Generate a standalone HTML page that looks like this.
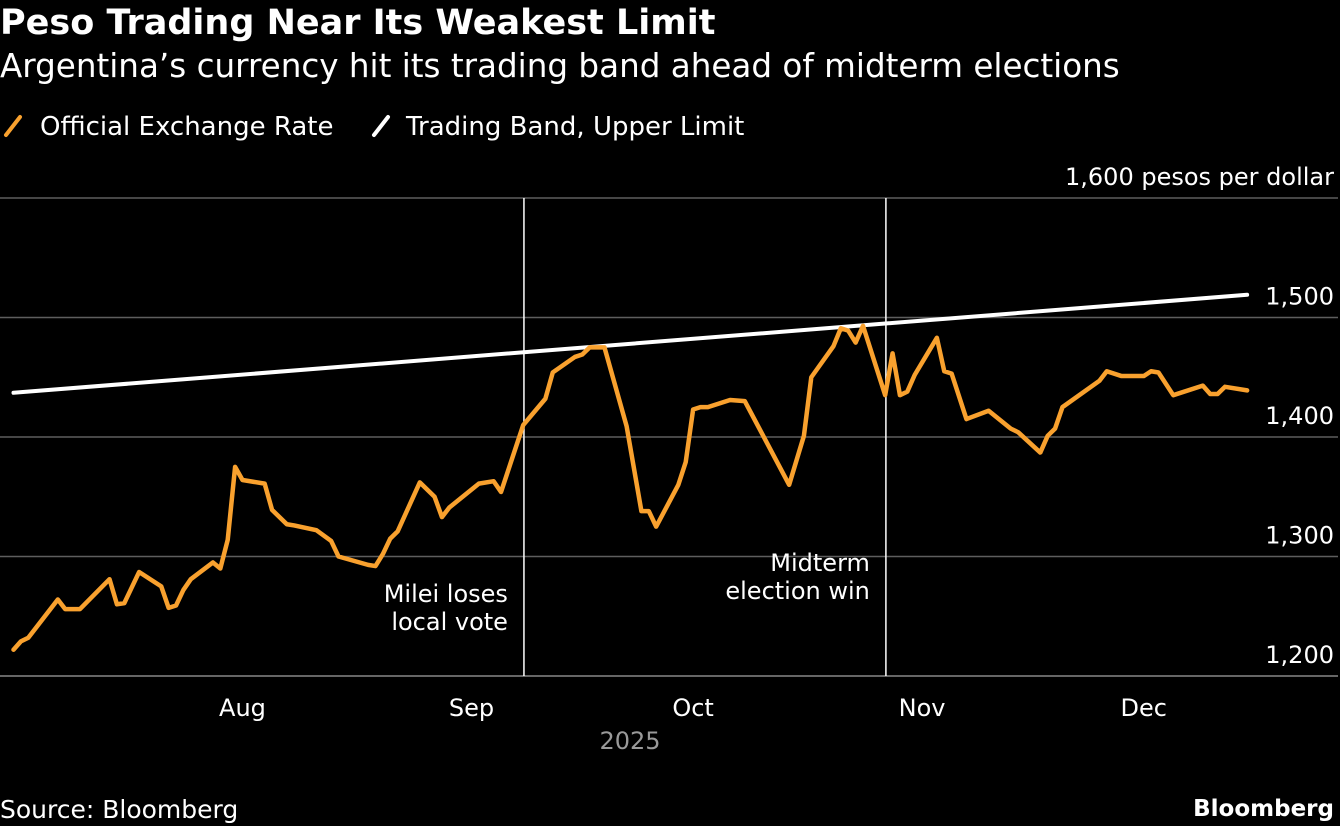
<!DOCTYPE html>
<html><head><meta charset="utf-8">
<style>
html,body{margin:0;padding:0;background:#000;}
svg{display:block;font-family:"DejaVu Sans","Liberation Sans",sans-serif;}
</style></head>
<body>
<svg id="chart" width="1340" height="826" viewBox="0 0 1340 826" xmlns="http://www.w3.org/2000/svg">
<rect width="1340" height="826" fill="#000"/>
<text x="0" y="34" fill="#fff" font-size="35" font-weight="bold">Peso Trading Near Its Weakest Limit</text>
<text x="0" y="77" fill="#fff" font-size="32.6">Argentina’s currency hit its trading band ahead of midterm elections</text>
<g>
  <g>
    <line x1="6" y1="135" x2="20" y2="117" stroke="#f9a12e" stroke-width="4" stroke-linecap="round"/>
    <text x="40" y="135" fill="#fff" font-size="26">Official Exchange Rate</text>
  </g>
  <g>
    <line x1="374" y1="135" x2="388" y2="117" stroke="#fff" stroke-width="4" stroke-linecap="round"/>
    <text x="406" y="135" fill="#fff" font-size="26">Trading Band, Upper Limit</text>
  </g>
</g>
<g id="grid"></g>
<g id="yticks"></g>
<g id="xticks"></g>
<g id="events"></g>
<g id="series"></g>
<text x="630" y="749" fill="#999" font-size="24" text-anchor="middle">2025</text>
<text x="0" y="818" fill="#fff" font-size="25">Source: Bloomberg</text>
<text x="1334" y="816" fill="#fff" font-size="23" font-weight="bold" text-anchor="end">Bloomberg</text>
</svg>
<script>
// days since Jul 1, 2025
const rateDays = [0,1,2,6,7,9,13,14,15,17,20,21,22,23,24,27,28,29,30,31,34,35,37,38,41,43,44,48,49,50,51,52,55,57,58,59,63,65,66,69,72,73,76,77,78,80,83,85,86,87,90,91,92,93,94,97,99,105,107,108,111,112,113,114,115,118,119,120,121,122,125,126,127,129,132,135,136,139,140,141,142,147,148,150,153,154,155,157,161,162,163,164,167];
const rateValues = [1222,1229,1232,1264,1256,1256,1281,1260,1261,1287,1275,1257,1259,1272,1281,1295,1290,1314,1375,1364,1361,1339,1327,1326,1322,1313,1300,1293,1292,1302,1315,1321,1362,1350,1333,1341,1361,1363,1354,1410,1432,1454,1467,1469,1475,1475,1409,1338,1338,1325,1360,1379,1423,1425,1425,1431,1430,1360,1401,1450,1476,1491,1489,1479,1493,1435,1470,1435,1438,1452,1483,1455,1453,1415,1422,1407,1404,1387,1401,1407,1425,1447,1455,1451,1451,1455,1454,1435,1443,1436,1436,1442,1439];
const bandDays = [0,167];
const bandValues = [1437,1519];
const yTicks = [1200,1300,1400,1500];
const yTopLabel = "1,600 pesos per dollar";
const monthLabels = ["Aug","Sep","Oct","Nov","Dec"];
const monthDays = [31,62,92,123,153];
const eventDays = [69.1,118.1];
const eventLines1 = ["Milei loses","Midterm"];
const eventLines2 = ["local vote","election win"];

const NS = "http://www.w3.org/2000/svg";
const xs = d => 13.5 + d * 7.387;
const ys = v => 676 - (v - 1200) * 1.195;
function mk(tag, attrs, parent){const e=document.createElementNS(NS,tag);for(const k in attrs)e.setAttribute(k,attrs[k]);parent.appendChild(e);return e;}
const gridG=document.getElementById('grid'), ytG=document.getElementById('yticks'), xtG=document.getElementById('xticks'), evG=document.getElementById('events'), seG=document.getElementById('series');

[...yTicks,1600].forEach(v=>{
  const l=mk('line',{x1:0,x2:1338,y1:ys(v),y2:ys(v),stroke:v===1200?'#888':'#5e5e5e','stroke-width':1.5},gridG);
  
  
});
yTicks.forEach(v=>{
  const t=mk('text',{x:1334,y:ys(v)-13,fill:'#fff','font-size':24,'text-anchor':'end'},ytG);
  t.textContent=v.toLocaleString('en-US');
  
  
});
const unitLabel=mk('text',{x:1334,y:ys(1600)-13,fill:'#fff','font-size':24,'text-anchor':'end'},ytG);
unitLabel.textContent=yTopLabel;



monthLabels.forEach((m,i)=>{
  const t=mk('text',{x:xs(monthDays[i]),y:716,fill:'#fff','font-size':24,'text-anchor':'middle'},xtG);
  t.textContent=m;
  
  
});

eventDays.forEach((d,i)=>{
  const xx=xs(d);
  const l=mk('line',{x1:xx,x2:xx,y1:198,y2:676,stroke:'#fff','stroke-width':1.5},evG);
  
  
  const baseY = i===0 ? 602 : 571;
  const t1=mk('text',{x:xx-16,y:baseY,fill:'#fff','font-size':24,'text-anchor':'end'},evG);
  t1.textContent=eventLines1[i];
  
  
  const t2=mk('text',{x:xx-16,y:baseY+28,fill:'#fff','font-size':24,'text-anchor':'end'},evG);
  t2.textContent=eventLines2[i];
  
  
});

const bandPts=bandDays.map((d,i)=>xs(d)+','+ys(bandValues[i])).join(' ');
const band=mk('polyline',{points:bandPts,fill:'none',stroke:'#fff','stroke-width':4,'stroke-linecap':'round'},seG);


const ratePts=rateDays.map((d,i)=>xs(d)+','+ys(rateValues[i])).join(' ');
const rate=mk('polyline',{points:ratePts,fill:'none',stroke:'#f9a12e','stroke-width':4.5,'stroke-linejoin':'round','stroke-linecap':'round'},seG);


</script>
</body></html>
